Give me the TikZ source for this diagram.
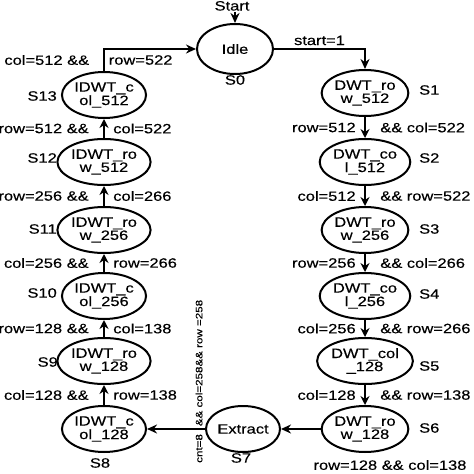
\documentclass[tikz,border=0pt]{standalone}
\usepackage{fontspec}
\setmainfont{Liberation Sans}[FakeStretch=1.22,FakeBold=0.3]
\usetikzlibrary{shapes.geometric,arrows.meta}
\begin{document}
\begin{tikzpicture}[x=1pt,y=-1pt,
 st/.style={ellipse,draw,line width=2pt,minimum width=80pt,minimum height=46pt,inner sep=0pt,align=center,font=\fontsize{13.5}{12}\selectfont},
 lab/.style={inner sep=0pt,font=\fontsize{13.5}{14}\selectfont},
 arr/.style={line width=1.7pt,-{Stealth[length=10pt,width=9pt]}},
 varr/.style={line width=2.6pt,-{Stealth[length=9pt,width=9pt]}},
 ll/.style={lab,anchor=east,xshift=-14pt},
 lr/.style={lab,anchor=west,xshift=8pt},
 rl/.style={lab,anchor=east,xshift=-8pt},
 rr/.style={lab,anchor=west,xshift=14pt},
]
\useasboundingbox (0,0) rectangle (474,474);
% states
\node[st,minimum width=76pt,minimum height=50pt] (s0) at (235,49) {Idle};
\node[st] (s1) at (365,93) {DWT\_ro\\w\_512};
\node[st] (s2) at (365,162) {DWT\_co\\l\_512};
\node[st] (s3) at (365,230) {DWT\_ro\\w\_256};
\node[st] (s4) at (365,296) {DWT\_co\\l\_256};
\node[st] (s5) at (365,361) {DWT\_col\\\_128};
\node[st] (s6) at (365,429) {DWT\_ro\\w\_128};
\node[st,minimum width=74pt] (s7) at (243,429) {Extract};
\node[st] (s8) at (104,429) {IDWT\_c\\ol\_128};
\node[st] (s9) at (104,361) {IDWT\_ro\\w\_128};
\node[st] (s10) at (104,296) {IDWT\_c\\ol\_256};
\node[st] (s11) at (104,230) {IDWT\_ro\\w\_256};
\node[st] (s12) at (104,162) {IDWT\_ro\\w\_512};
\node[st] (s13) at (104,95) {IDWT\_c\\ol\_512};
% state names
\node[lab] (n0) at (235,80) {S0};
\node[lab,anchor=west] (n1) at (419,90) {S1};
\node[lab,anchor=west] (n2) at (419,158) {S2};
\node[lab,anchor=west] (n3) at (419,229) {S3};
\node[lab,anchor=west] (n4) at (419,294) {S4};
\node[lab,anchor=west] (n5) at (419,366) {S5};
\node[lab,anchor=west] (n6) at (419,428) {S6};
\node[lab] (n7) at (241,458) {S7};
\node[lab] (n8) at (100,463) {S8};
\node[lab,anchor=east] (n9) at (58,362) {S9};
\node[lab,anchor=east] (n10) at (57,293) {S10};
\node[lab,anchor=east] (n11) at (57,229) {S11};
\node[lab,anchor=east] (n12) at (57,158) {S12};
\node[lab,anchor=east] (n13) at (57,96) {S13};
% start
\node[lab,anchor=base] (tstart) at (232,10.5) {Start};
\coordinate (cst) at (235,12);
\draw[arr] (cst) -- (s0.north);
% transitions
\draw[arr] (s0.east) -| node[pos=0.25,lab,anchor=south,yshift=3pt]{start=1} (s1.north);
\draw[varr] (s1) -- node[rl]{row=512} node[rr]{\&\& col=522} (s2);
\draw[varr] (s2) -- node[rl]{col=512} node[rr]{\&\& row=522} (s3);
\draw[varr] (s3) -- node[rl]{row=256} node[rr]{\&\& col=266} (s4);
\draw[varr] (s4) -- node[rl]{col=256} node[rr]{\&\& row=266} (s5);
\draw[varr] (s5) -- node[rl]{col=128} node[rr]{\&\& row=138} (s6);
\draw[arr] (s6) -- (s7);
\node[lab] (l67) at (390,465) {row=128 \&\& col=138};
\draw[arr] (s7) -- (s8);
\node[lab,rotate=90,anchor=west,font=\fontsize{9.5}{10}\selectfont] (l78) at (199,463) {cnt=8\hspace{8pt}\&\& col=258\&\& row =258};
\draw[varr] (s8) -- node[ll]{col=128 \&\&} node[lr]{row=138} (s9);
\draw[varr] (s9) -- node[ll]{row=128 \&\&} node[lr]{col=138} (s10);
\draw[varr] (s10) -- node[ll]{col=256 \&\&} node[lr]{row=266} (s11);
\draw[varr] (s11) -- node[ll]{row=256 \&\&} node[lr]{col=266} (s12);
\draw[varr] (s12) -- node[ll]{row=512 \&\&} node[lr]{col=522} (s13);
\draw[arr] (s13.north) |- node[pos=0.25,ll]{col=512 \&\&} node[pos=0.25,lr,xshift=-4pt]{row=522} (s0.west);
\end{tikzpicture}
\end{document}
